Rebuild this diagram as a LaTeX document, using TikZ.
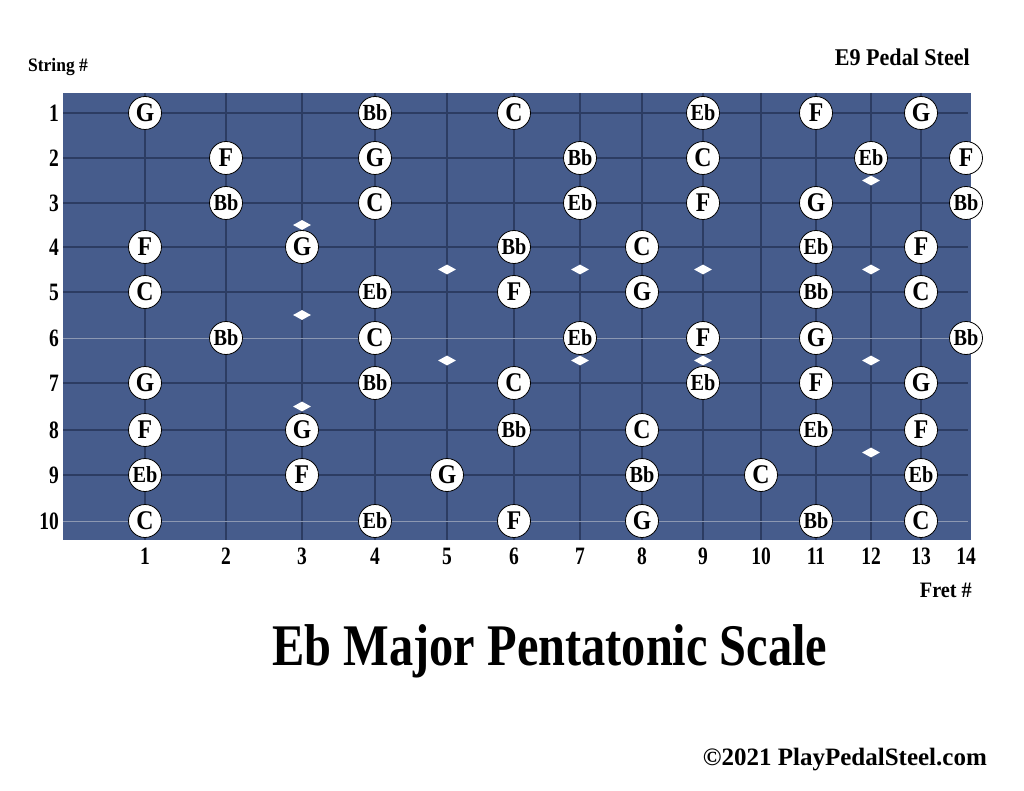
\documentclass[tikz,border=0pt]{standalone}
\usepackage{fontspec}
\setmainfont{Liberation Serif}
\newfontfamily\condfont[FakeStretch=0.78]{Liberation Serif}
\newfontfamily\titlefont[FakeStretch=0.82]{Liberation Serif}
\newfontfamily\notefont[FakeStretch=0.88]{Liberation Serif}
\newfontfamily\widefont[FakeStretch=0.92]{Liberation Serif}
\usetikzlibrary{positioning, shapes.geometric, calc}

\definecolor{boardblue}{RGB}{70,92,140}
\definecolor{fretline}{RGB}{44,60,98}
\definecolor{paleline}{RGB}{140,152,178}

\begin{document}
\begin{tikzpicture}[
    x=1pt, y=-1pt,
    % Styles
    note/.style={ % note on the neck
        circle,
        draw=black,
        fill=white,
        line width=0.8pt,
        minimum size=33pt,
        inner sep=0pt,
        font=\notefont\bfseries\fontsize{27}{27}\selectfont
    },
    flat/.style={ % flat note, smaller text
        note,
        font=\notefont\bfseries\fontsize{23}{23}\selectfont
    },
    inlay/.style={ % position marker
        diamond,
        fill=white,
        minimum width=18pt,
        minimum height=10pt,
        inner sep=0pt
    },
    num/.style={ % string and fret numbers
        font=\condfont\bfseries\fontsize{25}{25}\selectfont,
        inner sep=0pt
    },
    label/.style={ % small captions
        font=\widefont\bfseries\fontsize{19}{19}\selectfont,
        inner sep=0pt
    },
    wire/.style={ % lines on the board
        draw=fretline,
        line width=1.2pt
    }
]
    \useasboundingbox (0,0) rectangle (1024,791);

    % Rows and columns
    \foreach \s/\y in {1/113, 2/158, 3/203, 4/247, 5/292, 6/338, 7/383, 8/430, 9/475, 10/521} {
        \coordinate (s\s) at (0,\y);
    }
    \foreach \f/\x in {1/145, 2/226, 3/302, 4/375, 5/447, 6/514, 7/580, 8/642, 9/703, 10/761, 11/816, 12/871, 13/921, 14/966} {
        \coordinate (f\f) at (\x,0);
    }

    % Board
    \fill[boardblue] (63,93) rectangle (971,540);
    \foreach \f in {1,...,13} {
        \draw[wire] (f\f |- 0,93) -- (f\f |- 0,540);
    }
    \foreach \s in {1,2,3,4,5,7,8,9} {
        \draw[wire] (63,0 |- s\s) -- (968,0 |- s\s);
    }
    \foreach \s in {6,10} {
        \draw[wire, draw=paleline, line width=0.9pt] (63,0 |- s\s) -- (968,0 |- s\s);
    }

    % Position markers
    \foreach \a/\b/\f in {2/3/12, 3/4/3, 4/5/5, 4/5/7, 4/5/9, 4/5/12, 5/6/3,
                          6/7/5, 6/7/7, 6/7/9, 6/7/12, 7/8/3, 8/9/12} {
        \node[inlay] (inlay-\a-\f) at ($(f\f |- s\a)!0.5!(f\f |- s\b)$) {};
    }

    % Notes of the scale
    \foreach \s/\f/\n/\st in {
        1/1/G/note, 1/4/Bb/flat, 1/6/C/note, 1/9/Eb/flat, 1/11/F/note, 1/13/G/note,
        2/2/F/note, 2/4/G/note, 2/7/Bb/flat, 2/9/C/note, 2/12/Eb/flat, 2/14/F/note,
        3/2/Bb/flat, 3/4/C/note, 3/7/Eb/flat, 3/9/F/note, 3/11/G/note, 3/14/Bb/flat,
        4/1/F/note, 4/3/G/note, 4/6/Bb/flat, 4/8/C/note, 4/11/Eb/flat, 4/13/F/note,
        5/1/C/note, 5/4/Eb/flat, 5/6/F/note, 5/8/G/note, 5/11/Bb/flat, 5/13/C/note,
        6/2/Bb/flat, 6/4/C/note, 6/7/Eb/flat, 6/9/F/note, 6/11/G/note, 6/14/Bb/flat,
        7/1/G/note, 7/4/Bb/flat, 7/6/C/note, 7/9/Eb/flat, 7/11/F/note, 7/13/G/note,
        8/1/F/note, 8/3/G/note, 8/6/Bb/flat, 8/8/C/note, 8/11/Eb/flat, 8/13/F/note,
        9/1/Eb/flat, 9/3/F/note, 9/5/G/note, 9/8/Bb/flat, 9/10/C/note, 9/13/Eb/flat,
        10/1/C/note, 10/4/Eb/flat, 10/6/F/note, 10/8/G/note, 10/11/Bb/flat, 10/13/C/note} {
        \node[\st] (n\s-\f) at (f\f |- s\s) {\n};
    }

    % String numbers
    \foreach \s in {1,...,10} {
        \node[num, anchor=east] (str\s) at (59,0 |- s\s) {\s};
    }

    % Fret numbers
    \foreach \f in {1,...,14} {
        \node[num] (fret\f) at (f\f |- 0,556) {\f};
    }

    % Captions
    \node[label] (strcap) at (58,67) {String \#};
    \node[label, anchor=east, font=\widefont\bfseries\fontsize{24}{24}\selectfont] (tuning) at (970,57) {E9 Pedal Steel};
    \node[label, anchor=east, font=\widefont\bfseries\fontsize{22}{22}\selectfont] (fretcap) at (972,590) {Fret \#};
    \node[font=\titlefont\bfseries\fontsize{59}{59}\selectfont, inner sep=0pt] (title) at (550,651) {Eb Major Pentatonic Scale};
    \node[font=\bfseries\fontsize{25}{25}\selectfont, inner sep=0pt, anchor=east] (credit) at (987,760) {\char"00A9 2021 PlayPedalSteel.com};

\end{tikzpicture}
\end{document}
